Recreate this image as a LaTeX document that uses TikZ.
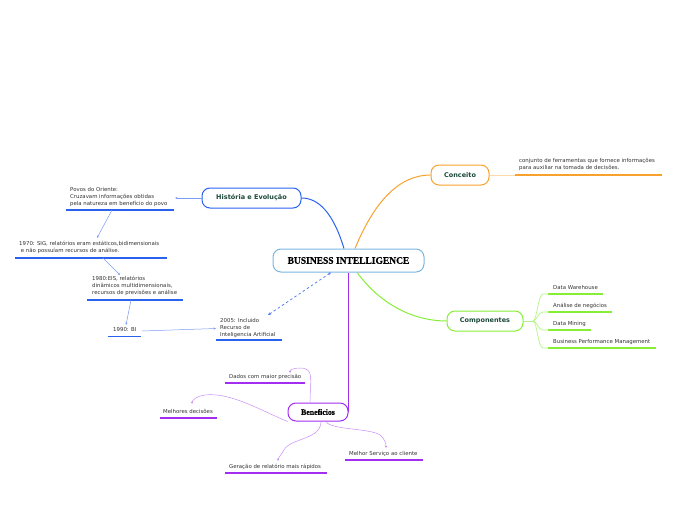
\documentclass[tikz,border=0pt]{standalone}
\usepackage{fontspec}
\usepackage{xcolor}
\usetikzlibrary{arrows.meta}
\newfontfamily\leaffont{DejaVu Sans}
\newfontfamily\headfont[FakeStretch=0.95,FakeBold=0.6]{Liberation Serif}
\definecolor{bicolor}{HTML}{7AB6E2}
\definecolor{histblue}{HTML}{2A62F0}
\definecolor{histtwig}{HTML}{7C9CF4}
\definecolor{concorange}{HTML}{F8A12C}
\definecolor{conctwig}{HTML}{FCD9A8}
\definecolor{compgreen}{HTML}{86EE36}
\definecolor{comptwig}{HTML}{B4F488}
\definecolor{benpurple}{HTML}{A22EF0}
\definecolor{bentwig}{HTML}{C88CF4}
\definecolor{topictext}{HTML}{1C4A3A}
\definecolor{leaftext}{HTML}{333333}

\begin{document}
\begin{tikzpicture}[x=1pt,y=-1pt,
    topic/.style={draw,line width=1pt,rounded corners=8pt,fill=white,inner sep=0pt,
      text=topictext,font=\leaffont\fontsize{6.5}{7}\selectfont\bfseries},
    leaf/.style={anchor=north west,inner sep=0pt,align=left,text=leaftext,
      font=\leaffont\fontsize{5.4}{7}\selectfont},
    uline/.style={line width=1.5pt},
    twig/.style={line width=0.5pt,-{Stealth[length=2.5pt,width=2.2pt]}}]
    \useasboundingbox (0,0) rectangle (697,520);
    % main topics
    \node[topic,draw=bicolor,minimum width=151pt,minimum height=23pt,text=black,
      font=\headfont\fontsize{10}{10}\selectfont\bfseries] (bi) at (348.5,260.5) {BUSINESS INTELLIGENCE};
    \node[topic,draw=concorange,minimum width=58pt,minimum height=20pt] (conc) at (460,175) {Conceito};
    \node[topic,draw=histblue,minimum width=99pt,minimum height=20pt] (hist) at (251.5,198) {História e Evolução};
    \node[topic,draw=compgreen,minimum width=76pt,minimum height=20pt] (comp) at (485,321) {Componentes};
    \node[topic,draw=benpurple,minimum width=60pt,minimum height=18pt,text=black,
      font=\headfont\fontsize{8.2}{9}\selectfont\bfseries] (ben) at (318,412) {Beneficios};
    % branches
    \draw[histblue,line width=1pt] ([xshift=-4.5pt]bi.north) .. controls (333,212) and (318,198) .. (hist.east);
    \draw[concorange,line width=1pt] ([xshift=6.5pt]bi.north) .. controls (375,200) and (400,175) .. (conc.west);
    \draw[compgreen,line width=1pt] ([xshift=8.5pt]bi.south) .. controls (385,310) and (420,321) .. (comp.west);
    \draw[benpurple,line width=1pt] (bi.south) -- (bi.south |- ben.east) -- (ben.east);
    \coordinate (ai-tip) at (268,315);
    \draw[histblue!80,line width=0.8pt,dash pattern=on 2.5pt off 2.5pt,
      {Stealth[length=3pt,width=3pt]}-{Stealth[length=3pt,width=3pt]}] (ai-tip) -- ([xshift=-17.5pt]bi.south);
    % Conceito
    \node[leaf] (conj) at (519,158.5) {conjunto de ferramentas que fornece informações\\para auxiliar na tomada de decisões.};
    \draw[uline,concorange] (515,175) -- (662,175);
    \coordinate (conj-in) at (515,175);
    \draw[conctwig,line width=1pt] (conc.east) -- (conj-in);
    % Historia e Evolucao
    \node[leaf] (povos) at (70,187.5) {Povos do Oriente:\\Cruzavam informações obtidas\\pela natureza em benefício do povo};
    \node[leaf] (sig) at (19,241) {1970: SIG, relatórios eram estáticos,bidimensionais\\\ e não possuíam recursos de análise.};
    \node[leaf] (eis) at (92,276) {1980:EIS, relatórios\\dinâmicos multidimensionais,\\recursos de previsões e análise};
    \node[leaf] (bi90) at (113,327) {1990: BI};
    \node[leaf] (ai) at (220,318) {2005: Incluido\\Recurso de\\Inteligencia Artificial};
    \draw[uline,histblue] (66,210) -- (174,210);
    \draw[uline,histblue] (15,258) -- (167,258);
    \draw[uline,histblue] (87,300) -- (183,300);
    \draw[uline,histblue] (108,336.5) -- (141,336.5);
    \draw[uline,histblue] (216,340) -- (282,340);
    \coordinate (povos-in) at (175,198);
    \coordinate (povos-out) at (112,210);
    \coordinate (sig-in) at (97,238);
    \coordinate (sig-out) at (103,258);
    \coordinate (eis-in) at (120,275);
    \coordinate (eis-out) at (131,300);
    \coordinate (bi90-in) at (126,325);
    \coordinate (bi90-out) at (142,331);
    \coordinate (ai-in) at (216,328.5);
    \draw[twig,histtwig] (hist.west) -- (povos-in);
    \draw[twig,histtwig] (povos-out) -- (sig-in);
    \draw[twig,histtwig] (sig-out) -- (eis-in);
    \draw[twig,histtwig] (eis-out) -- (bi90-in);
    \draw[twig,histtwig] (bi90-out) -- (ai-in);
    % Componentes
    \node[leaf] (dw) at (553,285) {Data Warehouse};
    \node[leaf] (an) at (553,303) {Análise de negócios};
    \node[leaf] (dm) at (553,321) {Data Mining};
    \node[leaf] (bpm) at (553,339) {Business Performance Management};
    \draw[uline,compgreen] (548,294) -- (603,294);
    \draw[uline,compgreen] (548,312) -- (612,312);
    \draw[uline,compgreen] (548,330) -- (591,330);
    \draw[uline,compgreen] (548,348) -- (656,348);
    \coordinate (fork) at (533,321);
    \draw[comptwig,line width=0.7pt] (comp.east) -- (fork);
    \foreach \y in {294,312,330,348}
      \draw[comptwig,line width=0.7pt] (fork) .. controls (537,321) and (538,\y) .. (543,\y) -- (548,\y);
    % Beneficios
    \node[leaf] (dados) at (229,374) {Dados com maior precisão};
    \node[leaf] (melh) at (163,409) {Melhores decisões};
    \node[leaf] (ger) at (229,464) {Geração de relatório mais rápidos};
    \node[leaf] (serv) at (349,451) {Melhor Serviço ao cliente};
    \draw[uline,benpurple] (225,383) -- (305,383);
    \draw[uline,benpurple] (160,418) -- (217,418);
    \draw[uline,benpurple] (225,473) -- (327,473);
    \draw[uline,benpurple] (345,460) -- (423,460);
    \coordinate (dados-in) at (290,373);
    \coordinate (melh-in) at (192,404);
    \coordinate (ger-in) at (278,461);
    \coordinate (serv-in) at (386,448);
    \draw[twig,bentwig] ([xshift=-8pt]ben.north) .. controls (310,380) and (315,368) .. (300,368)
      .. controls (293,368) and (290,370) .. (dados-in);
    \draw[twig,bentwig] (ben.south west) .. controls (260,410) and (230,392) .. (205,395)
      .. controls (197,396) and (192,400) .. (melh-in);
    \draw[twig,bentwig] ([xshift=3pt]ben.south) .. controls (321,440) and (290,438) .. (284,450)
      .. controls (281,455) and (278,458) .. (ger-in);
    \draw[twig,bentwig] ([xshift=8pt]ben.south) .. controls (330,430) and (370,428) .. (380,435)
      .. controls (385,439) and (386,444) .. (serv-in);
\end{tikzpicture}
\end{document}
